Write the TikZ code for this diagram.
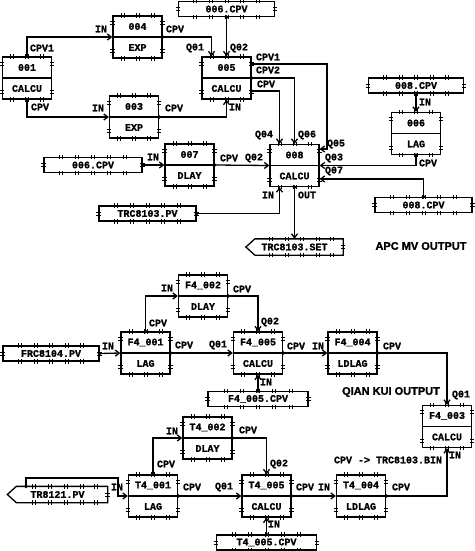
\documentclass[tikz,border=0pt]{standalone}
\usepackage{fontspec}
\newfontfamily\blkfont{Liberation Mono}[UprightFont=* Bold, FakeBold=1.2]
\newfontfamily\ttlfont{Liberation Sans}[UprightFont=* Bold, FakeBold=1.5]
\usetikzlibrary{arrows.meta,calc}
\tikzset{
	blk/.style={draw, line width=1.3pt, minimum width=49pt, minimum height=42pt, inner sep=0pt},
	tagbox/.style={draw, line width=1.3pt, minimum height=15pt, inner sep=0pt, txt},
	txt/.style={font=\blkfont\fontsize{10}{10}\selectfont, inner sep=0pt},
	lbl/.style={txt},
	title/.style={font=\ttlfont\fontsize{11}{11}\selectfont, inner sep=0pt},
	pin/.style={line width=0.8pt},
	conn/.style={line width=1.3pt, shorten <=-1.8pt,
			{Circle[length=3.6pt]}-{Straight Barb[length=4pt,width=6pt]}},
	vpin/.pic={\draw[pin] (-1.5pt,-2.3pt) -- (-1.5pt,2.3pt) (1.5pt,-2.3pt) -- (1.5pt,2.3pt);},
	hpin/.pic={\draw[pin] (-2.3pt,-1.5pt) -- (2.3pt,-1.5pt) (-2.3pt,1.5pt) -- (2.3pt,1.5pt);}
}
% function block: name, x, y, number, type
\newcommand{\fblk}[5]{%
	\node[blk] (#1) at (#2,#3) {};
	\draw[line width=1.3pt] (#1.west) -- (#1.east);
	\node[txt] (#1n) at ([yshift=10.5pt]#1.center) {#4};
	\node[txt] (#1t) at ([yshift=-10.5pt]#1.center) {#5};
	\foreach \p in {0.2,0.5,0.8}{
		\pic at ($(#1.north west)!\p!(#1.north east)$) {vpin};
		\pic at ($(#1.south west)!\p!(#1.south east)$) {vpin};
	}
	\foreach \p in {0.17,0.83}{
		\pic at ($(#1.north west)!\p!(#1.south west)$) {hpin};
		\pic at ($(#1.north east)!\p!(#1.south east)$) {hpin};
	}
}
% input tag: name, x, y, width, text
\newcommand{\tagin}[5]{%
	\node[tagbox, minimum width=#4pt] (#1) at (#2,#3) {#5};
	\foreach \p in {0.18,0.34,0.5,0.66,0.82}{
		\pic at ($(#1.north west)!\p!(#1.north east)$) {vpin};
		\pic at ($(#1.south west)!\p!(#1.south east)$) {vpin};
	}
	\pic at (#1.west) {hpin};
	\pic at (#1.east) {hpin};
}
% output tag (pointed left end)
\newcommand{\tagout}[5]{%
	\node[tagbox, draw=none, minimum width=#4pt] (#1) at (#2,#3) {#5};
	\draw[line width=1.3pt] (#1.north east) -- (#1.south east) -- ([xshift=9pt]#1.south west)
		-- (#1.west) -- ([xshift=9pt]#1.north west) -- cycle;
	\foreach \p in {0.26,0.42,0.58,0.74,0.88}{
		\pic at ($(#1.north west)!\p!(#1.north east)$) {vpin};
		\pic at ($(#1.south west)!\p!(#1.south east)$) {vpin};
	}
	\pic at (#1.east) {hpin};
}

\begin{document}
\begin{tikzpicture}[x=1pt,y=-1pt]
	\useasboundingbox (0,0) rectangle (474,551);
	% APC MV part
	\fblk{b001}{27}{78}{001}{CALCU}
	\fblk{b004}{137.5}{37}{004}{EXP}
	\fblk{b003}{134}{117}{003}{EXP}
	\fblk{b005}{226.5}{78}{005}{CALCU}
	\fblk{b007}{189.5}{165}{007}{DLAY}
	\fblk{b008}{294.5}{165.5}{008}{CALCU}
	\fblk{b006}{416}{133.5}{006}{LAG}
	\tagin{tg006a}{226.5}{9}{96}{006.CPV}
	\tagin{tg008a}{416}{85.5}{95}{008.CPV}
	\tagin{tg006b}{93}{165}{98}{006.CPV}
	\tagin{tgpv}{147.5}{213.5}{97}{TRC8103.PV}
	\tagin{tg008b}{423.5}{205}{97}{008.CPV}
	\tagout{tgset}{294.5}{247}{96}{TRC8103.SET}

	\coordinate (q05) at (327,149);
	\draw[conn] (b001.north) |- (b004.west);
	\draw[conn] (b001.south) |- (b003.west);
	\draw[conn] (b004.east) -| ([xshift=-15pt]b005.north);
	\draw[conn] (tg006a.south) -- (b005.north);
	\draw[conn] (b003.east) -| (b005.south);
	\draw[conn] ([yshift=14pt]b005.east) -| (q05) -- (b008.east |- q05);
	\draw[conn] (b005.east) -| (b008.north);
	\draw[conn] ([yshift=-13pt]b005.east) -| ([xshift=-15pt]b008.north);
	\draw[conn] (tg006b.east) -- (b007.west);
	\draw[conn] (b007.east) -- (b008.west);
	\draw[conn] (tg008a.south) -- (b006.north);
	\draw[conn] (b006.south) |- (b008.east);
	\draw[conn] (tg008b.north) |- ([yshift=-13.5pt]b008.east);
	\draw[conn] (tgpv.east) -| ([xshift=-15pt]b008.south);
	\draw[conn] (b008.south) -- (tgset.north);

	\node[lbl] (l01) at (42,48) {CPV1};
	\node[lbl] (l02) at (101,29) {IN};
	\node[lbl] (l03) at (175,29) {CPV};
	\node[lbl] (l04) at (195,48) {Q01};
	\node[lbl] (l05) at (239,48) {Q02};
	\node[lbl] (l06) at (40,107) {CPV};
	\node[lbl] (l07) at (98,108) {IN};
	\node[lbl] (l08) at (174,108) {CPV};
	\node[lbl] (l09) at (235,107) {IN};
	\node[lbl] (l10) at (268,57) {CPV1};
	\node[lbl] (l11) at (268,70) {CPV2};
	\node[lbl] (l12) at (266,84) {CPV};
	\node[lbl] (l13) at (425,102) {IN};
	\node[lbl] (l14) at (428,163) {CPV};
	\node[lbl] (l15) at (264,135) {Q04};
	\node[lbl] (l16) at (307,135) {Q06};
	\node[lbl] (l17) at (336,144) {Q05};
	\node[lbl] (l18) at (334,158) {Q03};
	\node[lbl] (l19) at (334,171) {Q07};
	\node[lbl] (l20) at (229,158) {CPV};
	\node[lbl] (l21) at (254,158) {Q02};
	\node[lbl] (l22) at (153,157) {IN};
	\node[lbl] (l23) at (268,195) {IN};
	\node[lbl] (l24) at (307,195) {OUT};
	\node[title] (ttl1) at (421,246) {APC MV OUTPUT};

	% QIAN KUI part
	\fblk{f4001}{145.5}{353}{F4\_001}{LAG}
	\fblk{f4002}{203}{296}{F4\_002}{DLAY}
	\fblk{f4005}{258}{353}{F4\_005}{CALCU}
	\fblk{f4004}{352.5}{353}{F4\_004}{LDLAG}
	\fblk{f4003}{447}{426.5}{F4\_003}{CALCU}
	\fblk{t4001}{153}{496}{T4\_001}{LAG}
	\fblk{t4002}{207.5}{438}{T4\_002}{DLAY}
	\fblk{t4005}{266.5}{496}{T4\_005}{CALCU}
	\fblk{t4004}{361}{496}{T4\_004}{LDLAG}
	\tagin{tgfrc}{51}{353.5}{96}{FRC8104.PV}
	\tagin{tgf4}{258}{399}{100}{F4\_005.CPV}
	\tagout{tgtr}{57.5}{494.5}{99}{TR8121.PV}
	\tagin{tgt4}{266.5}{542.5}{100}{T4\_005.CPV}

	\coordinate (trb) at (118,478);
	\draw[conn] (tgfrc.east) -- (f4001.west);
	\draw[conn] (f4001.north) |- (f4002.west);
	\draw[conn] (f4001.east) -- (f4005.west);
	\draw[conn] (f4002.east) -| (f4005.north);
	\draw[conn] (tgf4.north) -- (f4005.south);
	\draw[conn] (f4005.east) -- (f4004.west);
	\draw[conn] (f4004.east) -| (f4003.north);
	\draw[conn] ([xshift=-31.5pt]tgtr.north) |- (trb) |- (t4001.west);
	\draw[conn] (t4001.north) |- (t4002.west);
	\draw[conn] (t4001.east) -- (t4005.west);
	\draw[conn] (t4002.east) -| (t4005.north);
	\draw[conn] (tgt4.north) -- (t4005.south);
	\draw[conn] (t4005.east) -- (t4004.west);
	\draw[conn] (t4004.east) -| (f4003.south);

	\node[lbl] (m01) at (108,346) {IN};
	\node[lbl] (m02) at (158,323) {CPV};
	\node[lbl] (m03) at (167,288) {IN};
	\node[lbl] (m04) at (184,345) {CPV};
	\node[lbl] (m05) at (218,345) {Q01};
	\node[lbl] (m06) at (242,289) {CPV};
	\node[lbl] (m07) at (270,322) {Q02};
	\node[lbl] (m08) at (296,346) {CPV};
	\node[lbl] (m09) at (318,346) {IN};
	\node[lbl] (m10) at (392,346) {CPV};
	\node[lbl] (m11) at (266,382) {IN};
	\node[lbl] (m12) at (461,395) {Q01};
	\node[lbl] (m13) at (455,455) {IN};
	\node[lbl] (m14) at (388,460) {CPV -> TRC8103.BIN};
	\node[lbl] (m15) at (248,430) {CPV};
	\node[lbl] (m16) at (279,464) {Q02};
	\node[lbl] (m17) at (305,487) {CPV};
	\node[lbl] (m18) at (324,487) {IN};
	\node[lbl] (m19) at (401,487) {CPV};
	\node[lbl] (m20) at (274,524) {IN};
	\node[lbl] (m21) at (172,431) {IN};
	\node[lbl] (m22) at (166,464) {CPV};
	\node[lbl] (m23) at (192,487) {CPV};
	\node[lbl] (m24) at (224,487) {Q01};
	\node[lbl] (m25) at (117,487) {IN};
	\node[title] (ttl2) at (391,392) {QIAN KUI OUTPUT};
\end{tikzpicture}
\end{document}
